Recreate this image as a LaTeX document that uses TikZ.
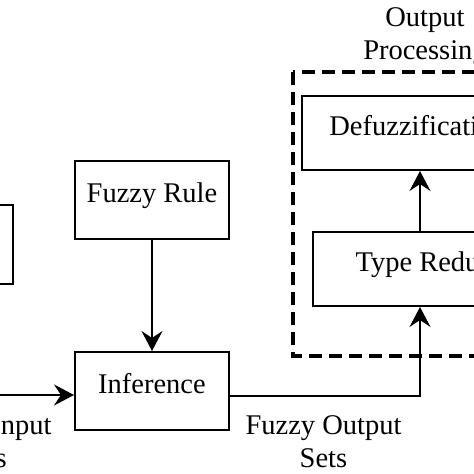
\documentclass[tikz,border=0pt]{standalone}
\usepackage{fontspec}
\setmainfont{Liberation Serif}
\usepackage{tikz}
\usetikzlibrary{positioning, arrows.meta}

\begin{document}
\begin{tikzpicture}[
    x=1pt, y=-1pt,
    every node/.style={font=\fontsize{28.5}{32.5}\selectfont},
    block/.style={rectangle, draw=black, line width=2pt, inner sep=0pt,
                  text height=16pt, text depth=12pt},
    caption/.style={align=center, inner sep=0pt, anchor=north},
    arrow/.style={-{Stealth[length=20pt, width=21pt, inset=7pt]}, line width=2pt},
    dashbox/.style={draw=black, line width=4pt, dash pattern=on 13pt off 7pt}
]
    \useasboundingbox (0,0) rectangle (474,474);
    \clip (0,0) rectangle (474,474);

    % Fuzzifier (cut off at the left)
    \node[block, minimum width=146pt, minimum height=79pt] (fuzzifier) at (-60, 244.5) {};

    % Rule base and inference
    \node[block, minimum width=154pt, minimum height=78pt] (rule) at (152, 200) {Fuzzy Rule};
    \node[block, minimum width=154pt, minimum height=78pt] (infer) at (152, 391) {Inference};

    % Output processing
    \draw[dashbox] (293, 72) rectangle (640, 356);
    \node[caption] (outlabel) at (425, 7.7) {Output\\Processing};
    \node[block, minimum width=232pt, minimum height=74pt] (defuzz) at (418, 133) {Defuzzification};
    \node[block, minimum width=266pt, minimum height=74pt] (typered) at (446, 269) {Type Reduction};

    % Labels
    \node[caption] (inlabel) at (-17, 415.7) {Fuzzy Input\\Sets};
    \node[caption] (setlabel) at (323.5, 415.7) {Fuzzy Output\\Sets};

    % Arrows
    \coordinate (inleft) at (-10, 395);
    \coordinate (turn) at (420, 396);
    \draw[arrow] (inleft) -- (inleft -| infer.west);
    \draw[arrow] (rule) -- (infer);
    \draw[arrow] (turn -| infer.east) -- (turn) -- (turn |- typered.south);
    \draw[arrow] (turn |- typered.north) -- (turn |- defuzz.south);

\end{tikzpicture}
\end{document}
